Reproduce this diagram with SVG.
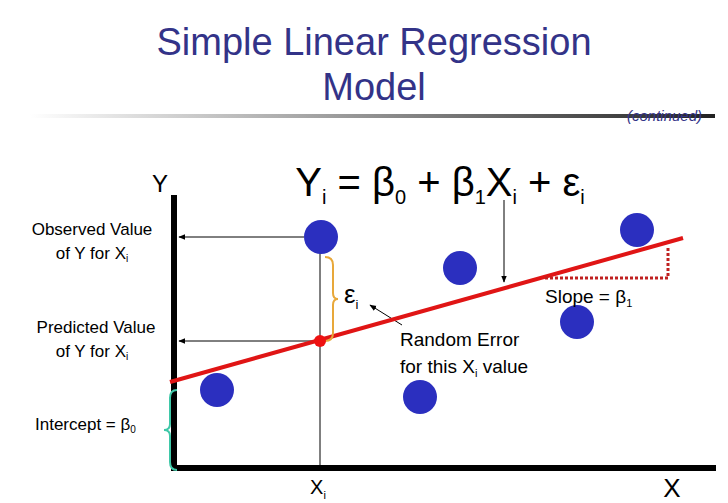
<svg xmlns="http://www.w3.org/2000/svg" width="728" height="503" viewBox="0 0 728 503">
<defs>
<linearGradient id="g" x1="0" x2="1"><stop offset="0" stop-color="#fff"/><stop offset="1" stop-color="#222"/></linearGradient>
<marker id="ah" viewBox="0 0 10 10" refX="9" refY="5" markerWidth="7" markerHeight="7" orient="auto-start-reverse"><path d="M0,1 L10,5 L0,9 z" fill="#000"/></marker>
<style>
text{font-family:"Liberation Sans",Arial,sans-serif;fill:#000}
.t{fill:#333388;font-size:38px}
.lab{font-size:17px}
.dot{fill:#2b2fbf}
.c{stroke:#000;stroke-width:1;fill:none}
</style>
</defs>
<rect width="728" height="503" fill="#fff"/>
<text class="t" x="374" y="55" text-anchor="middle">Simple Linear Regression</text>
<text class="t" x="374" y="100" text-anchor="middle">Model</text>
<rect x="30" y="114" width="685" height="4" fill="url(#g)"/>
<text x="702" y="121" text-anchor="end" font-size="15" font-style="italic" style="fill:#333388">(continued)</text>
<text x="440" y="196" text-anchor="middle" font-size="40">Y<tspan font-size="20" dy="8">i</tspan><tspan dy="-8"> = β</tspan><tspan font-size="20" dy="8">0</tspan><tspan dy="-8"> + β</tspan><tspan font-size="20" dy="8">1</tspan><tspan dy="-8">X</tspan><tspan font-size="20" dy="8">i</tspan><tspan dy="-8"> + ε</tspan><tspan font-size="20" dy="8">i</tspan></text>
<g id="axes">
<path d="M174,195 V468 H716" style="stroke:#000;stroke-width:6;fill:none"/>
<text x="160" y="192" text-anchor="middle" font-size="24">Y</text>
<text x="672" y="497" text-anchor="middle" font-size="26">X</text>
<text x="318" y="494" text-anchor="middle" font-size="20">X<tspan font-size="11" dy="5">i</tspan></text>
</g>
<g id="connectors">
<line class="c" x1="320" y1="237" x2="320" y2="468"/>
<line class="c" x1="304" y1="237" x2="179" y2="237" marker-end="url(#ah)"/>
<line class="c" x1="314" y1="341" x2="179" y2="341" marker-end="url(#ah)"/>
<line class="c" x1="504" y1="200" x2="504" y2="282" marker-end="url(#ah)"/>
<line class="c" x1="402" y1="325" x2="370" y2="305" marker-end="url(#ah)"/>
<line x1="170" y1="382" x2="683" y2="238" stroke="#e01515" stroke-width="4"/>
<path d="M545,278 H668 V246" stroke="#c02020" stroke-width="3" stroke-dasharray="3,2" fill="none"/>
<path d="M325,257 q8,0 8,8 v28 q0,6 5,6 q-5,0 -5,6 v28 q0,8 -8,8" stroke="#e8a83a" stroke-width="2" fill="none"/>
<path d="M177,390 q-7,0 -7,8 v26 q0,6 -6,6 q6,0 6,6 v26 q0,8 7,8" stroke="#3fc8a8" stroke-width="2" fill="none"/>
</g>
<g id="points">
<circle class="dot" cx="321" cy="237" r="17"/>
<circle class="dot" cx="217" cy="390" r="17"/>
<circle class="dot" cx="460" cy="268" r="17"/>
<circle class="dot" cx="420" cy="397" r="17"/>
<circle class="dot" cx="577" cy="322" r="17"/>
<circle class="dot" cx="637" cy="230" r="17"/>
<circle cx="320" cy="341" r="6" fill="#ee1111"/>
</g>
<g id="labels">
<text class="lab" x="92" y="235" text-anchor="middle">Observed Value</text>
<text class="lab" x="92" y="259" text-anchor="middle">of Y for X<tspan font-size="10" dy="3">i</tspan></text>
<text class="lab" x="96" y="333" text-anchor="middle">Predicted Value</text>
<text class="lab" x="92" y="357" text-anchor="middle">of Y for X<tspan font-size="10" dy="3">i</tspan></text>
<text class="lab" x="35" y="430">Intercept = β<tspan font-size="10" dy="3">0</tspan></text>
<text x="344" y="303" font-size="26">ε<tspan font-size="13" dy="6">i</tspan></text>
<text x="400" y="346" style="font-size:19px">Random Error</text>
<text x="400" y="373" style="font-size:19px">for this X<tspan font-size="11" dy="4">i</tspan><tspan dy="-4"> value</tspan></text>
<text x="545" y="303" style="font-size:19px">Slope = β<tspan font-size="11" dy="4">1</tspan></text>
</g>
</svg>
